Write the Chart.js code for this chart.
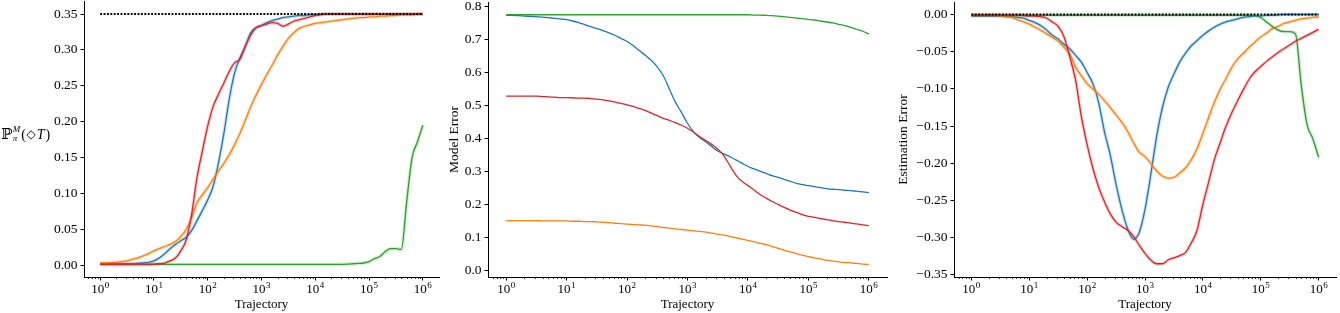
<!DOCTYPE html>
<html>
<head>
<meta charset="utf-8">
<script src="https://cdn.jsdelivr.net/npm/chart.js@4.4.1/dist/chart.umd.min.js"></script>
<style>
  html, body { margin: 0; padding: 0; background: #fff; }
  #wrap { position: relative; width: 1340px; height: 313px; overflow: hidden; }
  canvas { position: absolute; top: 0; }
</style>
</head>
<body>
<div id="wrap">
  <canvas id="chartProb" width="445" height="313" style="left:0"></canvas>
  <canvas id="chartModel" width="445" height="313" style="left:445px"></canvas>
  <canvas id="chartEst" width="450" height="313" style="left:890px"></canvas>
</div>
<script>
// sampled trajectory counts (shared by every series)
const TRAJ = [
  1, 1.26, 1.58, 2, 2.51, 3.16, 3.98, 5.01, 6.31, 7.94,
  10, 12.6, 15.8, 20, 25.1, 31.6, 39.8, 50.1, 63.1, 79.4,
  100, 126, 158, 200, 251, 316, 398, 501, 631, 794,
  1e3, 1.26e3, 1.58e3, 2e3, 2.51e3, 3.16e3, 3.98e3, 5.01e3, 6.31e3, 7.94e3,
  1e4, 1.26e4, 1.58e4, 2e4, 2.51e4, 3.16e4, 3.98e4, 5.01e4, 6.31e4, 7.94e4,
  1e5, 1.26e5, 1.58e5, 2e5, 2.51e5, 3.16e5, 3.98e5, 5.01e5, 6.31e5, 7.94e5,
  1e6
];
const TARGET_X = [1, 1e6];
const X_TICKS = [1, 10, 100, 1e3, 1e4, 1e5, 1e6];

// panel 1: P(<>T)
const PROB_BLUE = [
  0.002, 0.002, 0.002, 0.002, 0.002, 0.002, 0.002, 0.0025, 0.003, 0.004,
  0.006, 0.010, 0.016, 0.023, 0.029, 0.034, 0.039, 0.048, 0.062, 0.076,
  0.091, 0.110, 0.142, 0.184, 0.231, 0.268, 0.289, 0.305, 0.324, 0.331,
  0.334, 0.338, 0.341, 0.343, 0.345, 0.346, 0.347, 0.348, 0.348, 0.349,
  0.349, 0.35, 0.35, 0.35, 0.35, 0.35, 0.35, 0.35, 0.35, 0.35,
  0.35, 0.35, 0.35, 0.35, 0.35, 0.35, 0.35, 0.35, 0.35, 0.35,
  0.35
];
const PROB_ORANGE = [
  0.003, 0.003, 0.0035, 0.004, 0.005, 0.006, 0.008, 0.010, 0.013, 0.016,
  0.020, 0.023, 0.026, 0.029, 0.033, 0.040, 0.050, 0.066, 0.087, 0.098,
  0.108, 0.120, 0.131, 0.142, 0.154, 0.168, 0.184, 0.202, 0.221, 0.237,
  0.252, 0.266, 0.279, 0.293, 0.305, 0.316, 0.324, 0.330, 0.333, 0.335,
  0.337, 0.338, 0.339, 0.340, 0.341, 0.342, 0.343, 0.344, 0.345, 0.345,
  0.346, 0.346, 0.347, 0.347, 0.348, 0.348, 0.349, 0.349, 0.349, 0.35,
  0.35
];
const PROB_GREEN = [
  0.001, 0.001, 0.001, 0.001, 0.001, 0.001, 0.001, 0.001, 0.001, 0.001,
  0.001, 0.001, 0.001, 0.001, 0.001, 0.001, 0.001, 0.001, 0.001, 0.001,
  0.001, 0.001, 0.001, 0.001, 0.001, 0.001, 0.001, 0.001, 0.001, 0.001,
  0.001, 0.001, 0.001, 0.001, 0.001, 0.001, 0.001, 0.001, 0.001, 0.001,
  0.001, 0.001, 0.001, 0.001, 0.001, 0.0012, 0.0015, 0.002, 0.0025, 0.003,
  0.005, 0.009, 0.012, 0.019, 0.023, 0.023, 0.022, 0.089, 0.150, 0.172,
  0.195
];
const PROB_RED = [
  0.001, 0.001, 0.001, 0.001, 0.001, 0.001, 0.001, 0.001, 0.001, 0.001,
  0.0015, 0.002, 0.003, 0.006, 0.010, 0.020, 0.035, 0.070, 0.122, 0.159,
  0.194, 0.221, 0.238, 0.254, 0.270, 0.282, 0.287, 0.305, 0.321, 0.331,
  0.334, 0.336, 0.338, 0.337, 0.333, 0.336, 0.340, 0.342, 0.344, 0.346,
  0.348, 0.349, 0.35, 0.35, 0.35, 0.35, 0.35, 0.35, 0.35, 0.35,
  0.35, 0.35, 0.35, 0.35, 0.35, 0.35, 0.35, 0.35, 0.35, 0.35,
  0.35
];
const PROB_TARGET = [0.35, 0.35];

// panel 2: model error
const MODEL_BLUE = [
  0.773, 0.773, 0.772, 0.771, 0.770, 0.769, 0.768, 0.766, 0.764, 0.762,
  0.760, 0.756, 0.751, 0.745, 0.739, 0.733, 0.727, 0.720, 0.712, 0.703,
  0.694, 0.682, 0.667, 0.652, 0.637, 0.617, 0.590, 0.550, 0.510, 0.479,
  0.446, 0.420, 0.403, 0.390, 0.376, 0.362, 0.353, 0.345, 0.335, 0.325,
  0.315, 0.308, 0.301, 0.294, 0.287, 0.282, 0.276, 0.270, 0.264, 0.260,
  0.257, 0.254, 0.251, 0.248, 0.246, 0.245, 0.243, 0.242, 0.240, 0.238,
  0.236
];
const MODEL_ORANGE = [
  0.151, 0.151, 0.151, 0.151, 0.151, 0.151, 0.150, 0.150, 0.150, 0.150,
  0.150, 0.149, 0.149, 0.148, 0.148, 0.147, 0.146, 0.145, 0.143, 0.142,
  0.140, 0.139, 0.138, 0.137, 0.135, 0.133, 0.130, 0.128, 0.126, 0.124,
  0.122, 0.120, 0.118, 0.116, 0.113, 0.110, 0.107, 0.103, 0.099, 0.095,
  0.091, 0.087, 0.082, 0.078, 0.073, 0.067, 0.061, 0.056, 0.051, 0.046,
  0.042, 0.038, 0.035, 0.031, 0.028, 0.026, 0.024, 0.023, 0.021, 0.019,
  0.018
];
const MODEL_GREEN = [
  0.775, 0.775, 0.775, 0.775, 0.775, 0.775, 0.775, 0.775, 0.775, 0.775,
  0.775, 0.775, 0.775, 0.775, 0.775, 0.775, 0.775, 0.775, 0.775, 0.775,
  0.775, 0.775, 0.775, 0.775, 0.775, 0.775, 0.775, 0.775, 0.775, 0.775,
  0.775, 0.775, 0.775, 0.775, 0.775, 0.775, 0.775, 0.775, 0.775, 0.775,
  0.775, 0.774, 0.774, 0.773, 0.772, 0.771, 0.769, 0.767, 0.765, 0.763,
  0.761, 0.759, 0.756, 0.753, 0.750, 0.746, 0.742, 0.737, 0.731, 0.725,
  0.716
];
const MODEL_RED = [
  0.528, 0.528, 0.528, 0.528, 0.528, 0.528, 0.527, 0.526, 0.525, 0.524,
  0.524, 0.523, 0.522, 0.522, 0.521, 0.519, 0.517, 0.514, 0.510, 0.506,
  0.502, 0.497, 0.491, 0.485, 0.477, 0.469, 0.461, 0.455, 0.448, 0.440,
  0.431, 0.419, 0.406, 0.394, 0.382, 0.368, 0.348, 0.318, 0.289, 0.270,
  0.257, 0.244, 0.230, 0.219, 0.209, 0.200, 0.191, 0.183, 0.176, 0.169,
  0.164, 0.161, 0.157, 0.154, 0.151, 0.148, 0.146, 0.143, 0.141, 0.138,
  0.136
];

// panel 3: estimation error
const EST_BLUE = [
  -0.002, -0.002, -0.002, -0.002, -0.002, -0.002, -0.003, -0.003, -0.004, -0.005,
  -0.008, -0.011, -0.015, -0.021, -0.028, -0.033, -0.040, -0.046, -0.055, -0.064,
  -0.078, -0.093, -0.118, -0.158, -0.189, -0.228, -0.262, -0.288, -0.302, -0.293,
  -0.262, -0.215, -0.165, -0.125, -0.098, -0.080, -0.064, -0.052, -0.042, -0.035,
  -0.028, -0.022, -0.017, -0.013, -0.010, -0.008, -0.006, -0.004, -0.003, -0.002,
  -0.002, -0.001, -0.001, -0.0005, 0, 0, 0, 0, 0, 0,
  0
];
const EST_ORANGE = [
  -0.001, -0.001, -0.001, -0.001, -0.001, -0.002, -0.002, -0.004, -0.007, -0.010,
  -0.013, -0.017, -0.021, -0.026, -0.031, -0.036, -0.044, -0.053, -0.071, -0.082,
  -0.093, -0.100, -0.107, -0.116, -0.125, -0.135, -0.145, -0.157, -0.172, -0.185,
  -0.191, -0.200, -0.210, -0.217, -0.220, -0.219, -0.213, -0.206, -0.195, -0.180,
  -0.160, -0.138, -0.118, -0.100, -0.086, -0.071, -0.060, -0.052, -0.044, -0.037,
  -0.030, -0.025, -0.019, -0.016, -0.012, -0.010, -0.008, -0.006, -0.005, -0.004,
  -0.003
];
const EST_GREEN = [
  -0.001, -0.001, -0.001, -0.001, -0.001, -0.001, -0.001, -0.001, -0.001, -0.001,
  -0.001, -0.001, -0.001, -0.001, -0.001, -0.001, -0.001, -0.001, -0.001, -0.001,
  -0.001, -0.001, -0.001, -0.001, -0.001, -0.001, -0.001, -0.001, -0.001, -0.001,
  -0.001, -0.001, -0.001, -0.001, -0.001, -0.001, -0.001, -0.001, -0.001, -0.001,
  -0.001, -0.001, -0.001, -0.001, -0.001, -0.001, -0.001, -0.001, -0.001, -0.001,
  -0.004, -0.010, -0.016, -0.021, -0.023, -0.023, -0.026, -0.095, -0.148, -0.167,
  -0.192
];
const EST_RED = [
  -0.001, -0.001, -0.001, -0.001, -0.001, -0.001, -0.001, -0.001, -0.001, -0.0015,
  -0.002, -0.002, -0.003, -0.005, -0.010, -0.016, -0.030, -0.057, -0.088, -0.137,
  -0.175, -0.207, -0.232, -0.252, -0.268, -0.279, -0.285, -0.290, -0.298, -0.310,
  -0.321, -0.330, -0.335, -0.335, -0.330, -0.327, -0.324, -0.320, -0.307, -0.290,
  -0.255, -0.225, -0.195, -0.172, -0.150, -0.132, -0.116, -0.101, -0.087, -0.077,
  -0.070, -0.063, -0.057, -0.051, -0.046, -0.041, -0.036, -0.032, -0.028, -0.024,
  -0.020
];
const EST_TARGET = [0, 0];

const PROB_TICKS = [0, 0.05, 0.10, 0.15, 0.20, 0.25, 0.30, 0.35];
const MODEL_TICKS = [0, 0.1, 0.2, 0.3, 0.4, 0.5, 0.6, 0.7, 0.8];
const EST_TICKS = [0, -0.05, -0.10, -0.15, -0.20, -0.25, -0.30, -0.35];

const SERIF = "'Liberation Serif', 'DejaVu Serif', 'DejaVu Sans', serif";
const BLUE = '#1f77b4', ORANGE = '#ff7f0e', GREEN = '#2ca02c', RED = '#d62728';
const BANDS = {
  [BLUE]: 'rgba(31, 119, 180, 0.2)',
  [ORANGE]: 'rgba(255, 127, 14, 0.22)',
  [GREEN]: 'rgba(44, 160, 44, 0.2)',
  [RED]: 'rgba(214, 39, 40, 0.2)'
};
const X_MIN = 0.501, X_MAX = 1.995e6;

function pts(xs, ys) {
  return xs.map((t, i) => ({ x: t, y: ys[i] }));
}

function fmt(v, digits) {
  return Number(v).toFixed(digits).replace('-', '\u2212');
}

// series listed bottom-to-top; each gets a faint wide band under the line
function buildSets(series, target, bandWidth) {
  const sets = [];
  series.forEach(([ys, color]) => {
    if (bandWidth) {
      sets.push({
        data: pts(TRAJ, ys), borderColor: BANDS[color], borderWidth: bandWidth,
        pointRadius: 0, cubicInterpolationMode: 'monotone', fill: false
      });
    }
    sets.push({
      data: pts(TRAJ, ys), borderColor: color, borderWidth: 1.3,
      pointRadius: 0, cubicInterpolationMode: 'monotone', fill: false
    });
  });
  if (target) {
    sets.push({
      data: pts(TARGET_X, target), borderColor: '#000', borderWidth: 1.9,
      borderDash: [1.9, 1.5], pointRadius: 0, fill: false
    });
  }
  sets.forEach((s, i) => { s.order = sets.length - i; });
  return sets;
}

function xScale() {
  return {
    type: 'logarithmic',
    min: X_MIN,
    max: X_MAX,
    afterBuildTicks: (s) => { s.ticks = X_TICKS.map((v) => ({ value: v, major: true })); },
    afterFit: (s) => { s.height = 36; s.paddingLeft = 0; s.paddingRight = 0; },
    ticks: { display: false },
    grid: { display: true, drawOnChartArea: false, drawTicks: true, tickLength: 3.5, tickColor: '#000', tickWidth: 1 },
    border: { display: true, color: '#000', width: 1 },
    title: { display: true, text: 'Trajectory', color: '#000', font: { family: SERIF, size: 13 }, padding: { top: 0, bottom: 1 } }
  };
}

function yScale(min, max, ticks, digits, width, title, titlePad) {
  return {
    type: 'linear',
    min: min,
    max: max,
    afterBuildTicks: (s) => { s.ticks = ticks.map((v) => ({ value: v })); },
    afterFit: (s) => { s.width = width; s.paddingTop = 0; s.paddingBottom = 0; },
    ticks: {
      color: '#000', font: { family: SERIF, size: 13.5 }, padding: 3, autoSkip: false,
      callback: (v) => fmt(v, digits)
    },
    grid: { display: true, drawOnChartArea: false, drawTicks: true, tickLength: 3.5, tickColor: '#000', tickWidth: 1 },
    border: { display: true, color: '#000', width: 1 },
    title: {
      display: !!title, text: title || '', color: '#000',
      font: { family: SERIF, size: 13.5 }, padding: { top: titlePad, bottom: 0 }
    }
  };
}

// minor log ticks, 10^k labels and the math y-label of the first panel
const decor = {
  id: 'decor',
  afterDraw(chart, args, opts) {
    const ctx = chart.ctx;
    const xs = chart.scales.x;
    const y0 = chart.chartArea.bottom;
    ctx.save();
    ctx.strokeStyle = '#000';
    ctx.lineWidth = 0.8;
    for (let k = -1; k <= 6; k++) {
      for (let m = 2; m <= 9; m++) {
        const v = m * Math.pow(10, k);
        if (v < xs.min || v > xs.max) continue;
        const px = Math.round(xs.getPixelForValue(v)) + 0.5;
        ctx.beginPath();
        ctx.moveTo(px, y0);
        ctx.lineTo(px, y0 + 2);
        ctx.stroke();
      }
    }
    ctx.fillStyle = '#000';
    ctx.textBaseline = 'alphabetic';
    X_TICKS.forEach((v) => {
      const px = xs.getPixelForValue(v);
      const sup = String(Math.round(Math.log10(v)));
      ctx.font = `13px ${SERIF}`;
      const wb = ctx.measureText('10').width;
      ctx.font = `9px ${SERIF}`;
      const ws = ctx.measureText(sup).width;
      const left = px - (wb + ws + 0.5) / 2;
      ctx.font = `13px ${SERIF}`;
      ctx.fillText('10', left, y0 + 16);
      ctx.font = `9px ${SERIF}`;
      ctx.fillText(sup, left + wb + 0.5, y0 + 10.5);
    });
    if (opts && opts.probLabel) {
      const yb = 139;
      let x = 1;
      ctx.font = `15px ${SERIF}`;
      ctx.fillText('\u2119', x, yb);
      x += ctx.measureText('\u2119').width + 0.5;
      ctx.font = `italic 9px ${SERIF}`;
      ctx.fillText('M', x, yb - 7);
      ctx.fillText('\u03c0', x, yb + 2);
      x += Math.max(ctx.measureText('M').width, ctx.measureText('\u03c0').width) + 1;
      ctx.font = `14px ${SERIF}`;
      ctx.fillText('(', x, yb);
      x += ctx.measureText('(').width + 0.5;
      ctx.font = `12px ${SERIF}`;
      ctx.fillText('\u25c7', x, yb - 1);
      x += ctx.measureText('\u25c7').width + 1;
      ctx.font = `italic 14px ${SERIF}`;
      ctx.fillText('T', x, yb);
      x += ctx.measureText('T').width + 1;
      ctx.font = `14px ${SERIF}`;
      ctx.fillText(')', x, yb);
    }
    ctx.restore();
  }
};

function makeChart(id, datasets, y, padding, probLabel) {
  return new Chart(document.getElementById(id).getContext('2d'), {
    type: 'line',
    data: { datasets: datasets },
    options: {
      responsive: false,
      animation: false,
      parsing: false,
      normalized: true,
      layout: { padding: padding },
      plugins: { legend: { display: false }, tooltip: { enabled: false }, decor: { probLabel: probLabel } },
      scales: { x: xScale(), y: y }
    },
    plugins: [decor]
  });
}

makeChart('chartProb',
  buildSets([[PROB_BLUE, BLUE], [PROB_ORANGE, ORANGE], [PROB_GREEN, GREEN], [PROB_RED, RED]], PROB_TARGET, 3.5),
  yScale(-0.0165, 0.3675, PROB_TICKS, 2, 84, '', 0),
  { top: 1.5, right: 6, left: 0, bottom: 0 }, true);

makeChart('chartModel',
  buildSets([[MODEL_BLUE, BLUE], [MODEL_ORANGE, ORANGE], [MODEL_GREEN, GREEN], [MODEL_RED, RED]], null, 0),
  yScale(-0.02, 0.8136, MODEL_TICKS, 1, 43, 'Model Error', 1),
  { top: 2, right: 3, left: 0, bottom: 0 }, false);

makeChart('chartEst',
  buildSets([[EST_BLUE, BLUE], [EST_ORANGE, ORANGE], [EST_GREEN, GREEN], [EST_RED, RED]], EST_TARGET, 3.5),
  yScale(-0.3528, 0.0168, EST_TICKS, 2, 64, 'Estimation Error', 5),
  { top: 2, right: 4, left: 0, bottom: 0 }, false);
</script>
</body>
</html>
